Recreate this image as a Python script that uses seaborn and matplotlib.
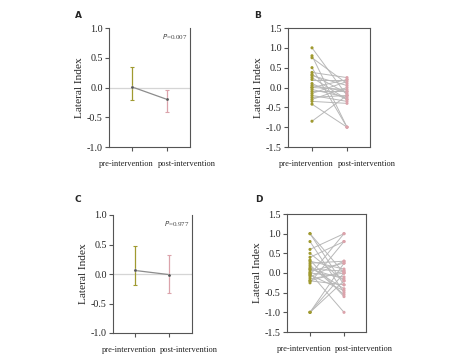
import numpy as np
import pandas as pd
import matplotlib
matplotlib.use("Agg")
import matplotlib.pyplot as plt
import matplotlib.transforms as mtransforms
import seaborn as sns

# Values
groups = ["pre-intervention", "post-intervention"]

# Panel A / C: centre value and error range
a_mid = [0.01, -0.20]
a_low = [-0.21, -0.41]
a_high = [0.35, -0.05]
a_p = "=0.007"

c_mid = [0.06, -0.01]
c_low = [-0.18, -0.32]
c_high = [0.47, 0.33]
c_p = "=0.977"

# Panel B / D: paired individual values
b_pre = [1.0, 0.8, 0.75, 0.5, 0.38, 0.33, 0.25, 0.2, 0.05, 0.0, -0.05,
         -0.15, -0.2, -0.3, -0.35, -0.42, -0.85, 0.1, -0.1, 0.3, -0.25, 0.0]
b_post = [-0.2, -1.0, 0.1, -1.0, 0.25, -0.15, -0.3, 0.2, -0.1, -0.05, -0.25,
          0.15, -0.35, 0.0, -0.4, -1.0, -0.2, -0.3, -0.1, 0.05, -0.2, 0.2]

d_pre = [1.0, 1.0, 0.8, 0.6, 0.5, 0.4, 0.33, 0.25, 0.15, 0.1, 0.05, 0.0, -0.05,
         -0.1, -0.15, -0.2, -0.25, -1.0, -1.0, 0.0, 0.3, -0.05, 0.2, -0.2, 0.1, -1.0]
d_post = [-0.3, 0.0, -0.5, 1.0, -0.2, 0.8, -0.6, 0.3, -0.4, 0.05, 0.25, -0.1, 1.0,
          0.3, 0.0, -0.3, 0.8, 0.25, -0.2, -1.0, 0.1, -0.45, -0.55, 0.05, -0.15, 0.0]

pre_col = "#a09a30"
post_col = "#dba3ab"
line_col = "#b8b8b8"
spine_col = "#555555"

sns.set_theme(style="white")
plt.rcParams["font.family"] = ["Liberation Serif", "DejaVu Serif"]

fig = plt.figure(figsize=(4.74, 3.56), dpi=100)
W, H = 474, 356


def make_ax(left, right, top, bottom, x0, x1):
    ax = fig.add_axes([left / W, 1 - bottom / H, (right - left) / W, (bottom - top) / H])
    sc = (x1 - x0)
    ax.set_xlim(-(x0 - left) / sc, 1 + (right - x1) / sc)
    for s in ax.spines.values():
        s.set_color(spine_col)
        s.set_linewidth(0.8)
    ax.tick_params(axis="both", which="both", direction="out", length=3, width=0.8,
                   color=spine_col, labelcolor="#222222", left=True, bottom=True)
    ax.tick_params(axis="y", labelsize=7.2, pad=1.5)
    ax.tick_params(axis="x", pad=6.5, labelsize=6.0)
    return ax


def finish(ax):
    ax.set_xticks([0, 1])
    ax.set_xticklabels(groups)
    ax.set_xlabel("")
    ax.set_ylabel("Lateral Index", fontsize=8.2, labelpad=2, color="#222222")
    # labels in the original sit off-centre from their ticks
    for lab, dx in zip(ax.get_xticklabels(), [-6, 20]):
        off = mtransforms.ScaledTranslation(dx / 100, 0, fig.dpi_scale_trans)
        lab.set_transform(lab.get_transform() + off)


def summary_panel(ax, mid, low, high, ptxt):
    df = pd.DataFrame({"x": [0, 1], "y": mid})
    ax.axhline(0, color="#d5d5d5", lw=0.9, zorder=0)
    sns.lineplot(data=df, x="x", y="y", color="#8c8c8c", lw=0.9, ax=ax)
    for i, c in enumerate([pre_col, post_col]):
        ax.errorbar(i, mid[i], yerr=[[mid[i] - low[i]], [high[i] - mid[i]]],
                    fmt="none", ecolor=c, elinewidth=0.9, capsize=1.5, capthick=0.8)
    sns.scatterplot(data=df, x="x", y="y", color="#555555", s=5, ax=ax, zorder=5)
    ax.set_ylim(-1.0, 1.0)
    ax.set_yticks([-1.0, -0.5, 0.0, 0.5, 1.0])
    ax.set_yticklabels(["-1.0", "-0.5", "0.0", "0.5", "1.0"])
    finish(ax)
    ax.text(0.97, 0.93, r"$\it{P}$" + ptxt, transform=ax.transAxes, ha="right",
            va="center", fontsize=5, color="#444444")


def paired_panel(ax, pre, post):
    n = len(pre)
    df = pd.DataFrame({"id": list(range(n)) * 2,
                       "x": [0] * n + [1] * n,
                       "y": pre + post,
                       "grp": ["pre"] * n + ["post"] * n})
    sns.lineplot(data=df, x="x", y="y", units="id", estimator=None, color=line_col,
                 lw=0.7, ax=ax)
    sns.scatterplot(data=df, x="x", y="y", hue="grp", palette={"pre": pre_col, "post": post_col},
                    s=5, linewidth=0, legend=False, ax=ax, zorder=5)
    ax.set_ylim(-1.5, 1.5)
    ax.set_yticks([-1.5, -1.0, -0.5, 0.0, 0.5, 1.0, 1.5])
    ax.set_yticklabels(["-1.5", "-1.0", "-0.5", "0.0", "0.5", "1.0", "1.5"])
    finish(ax)


axA = make_ax(109, 190, 28, 147, 132, 167)
summary_panel(axA, a_mid, a_low, a_high, a_p)
axA.spines["top"].set_visible(False)

axB = make_ax(288, 370, 28, 147, 312, 347)
paired_panel(axB, b_pre, b_post)

axC = make_ax(113, 192, 215, 333, 135, 169)
summary_panel(axC, c_mid, c_low, c_high, c_p)
axC.spines["top"].set_visible(False)

axD = make_ax(287, 366, 214, 332, 310, 344)
paired_panel(axD, d_pre, d_post)

for lab, x, y in [("A", 78, 15), ("B", 258, 15), ("C", 78, 200), ("D", 259, 200)]:
    fig.text(x / W, 1 - y / H, lab, fontsize=6.5, fontweight="bold",
             family="DejaVu Sans", ha="center", va="center")

fig.savefig("out.png", dpi=100)
